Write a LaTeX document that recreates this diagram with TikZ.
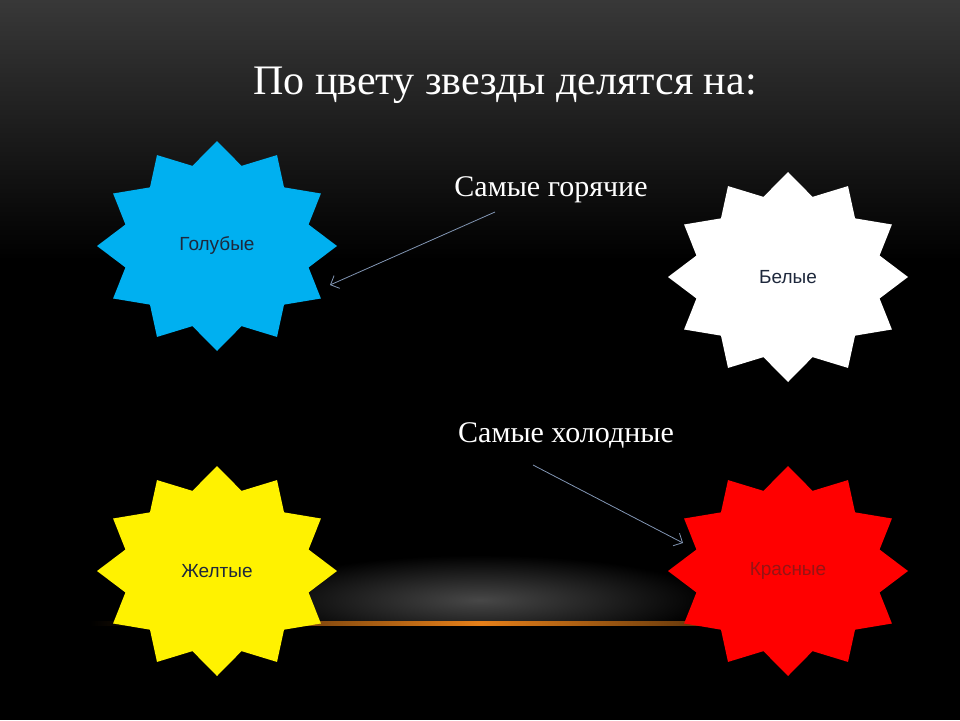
\documentclass[tikz,border=0pt]{standalone}
\usetikzlibrary{arrows.meta}
\usepackage{fontspec}
\setmainfont{Liberation Serif}
\newfontfamily\sansf{Liberation Sans}
\definecolor{skyb}{RGB}{0,176,240}
\definecolor{lblc}{RGB}{30,40,60}
\definecolor{redl}{RGB}{150,20,20}
\definecolor{arr}{RGB}{130,150,180}
\begin{document}
\begin{tikzpicture}[x=1pt,y=-1pt,
  lbl/.style={font=\sansf\fontsize{19}{21}\selectfont,text=lblc},
  head/.style={font=\fontsize{30}{34}\selectfont,text=white},
  conn/.style={draw=arr,line width=0.8pt,-{Straight Barb[length=7pt]}}]
\useasboundingbox (0,0) rectangle (960,720);
\fill[black] (0,0) rectangle (960,720);
\shade[top color=black!78!white,bottom color=black] (0,0) rectangle (960,260);
\shade[inner color=white!28!black,outer color=black] (480,600) ellipse (230 and 45);
\fill[black] (0,624) rectangle (960,720);
\shade[left color=black,right color=orange!60!brown] (90,621) rectangle (480,625);
\shade[left color=orange!60!brown,right color=black] (480,621) rectangle (870,625);
\newcommand\starshape[3]{%
  \fill[#3] ({#1+120},{#2}) \foreach \i in {1,...,23}{
    -- ({#1+120*(mod(\i,2)==0 ? 1 : 0.79)*cos(\i*15)},{#2-105*(mod(\i,2)==0 ? 1 : 0.79)*sin(\i*15)})} -- cycle;}
\starshape{217}{246}{skyb}
\starshape{788}{277}{white}
\starshape{217}{571}{yellow}
\starshape{788}{571}{red}
\node[lbl] (blue) at (217,246) {Голубые};
\node[lbl] (white) at (788,277) {Белые};
\node[lbl] (yellow) at (217,571) {Желтые};
\node[lbl,text=redl] (red) at (788,571) {Красные};
\node[font=\fontsize{42}{46}\selectfont,text=white] (title) at (505,85) {По цвету звезды делятся на:};
\node[head] (hot) at (551,190) {Самые горячие};
\node[head] (cold) at (566,435) {Самые холодные};
\coordinate (h1) at (495,212);
\coordinate (h2) at (330,285);
\coordinate (c1) at (533,465);
\coordinate (c2) at (683,543);
\draw[conn] (h1) -- (h2);
\draw[conn] (c1) -- (c2);
\end{tikzpicture}
\end{document}
